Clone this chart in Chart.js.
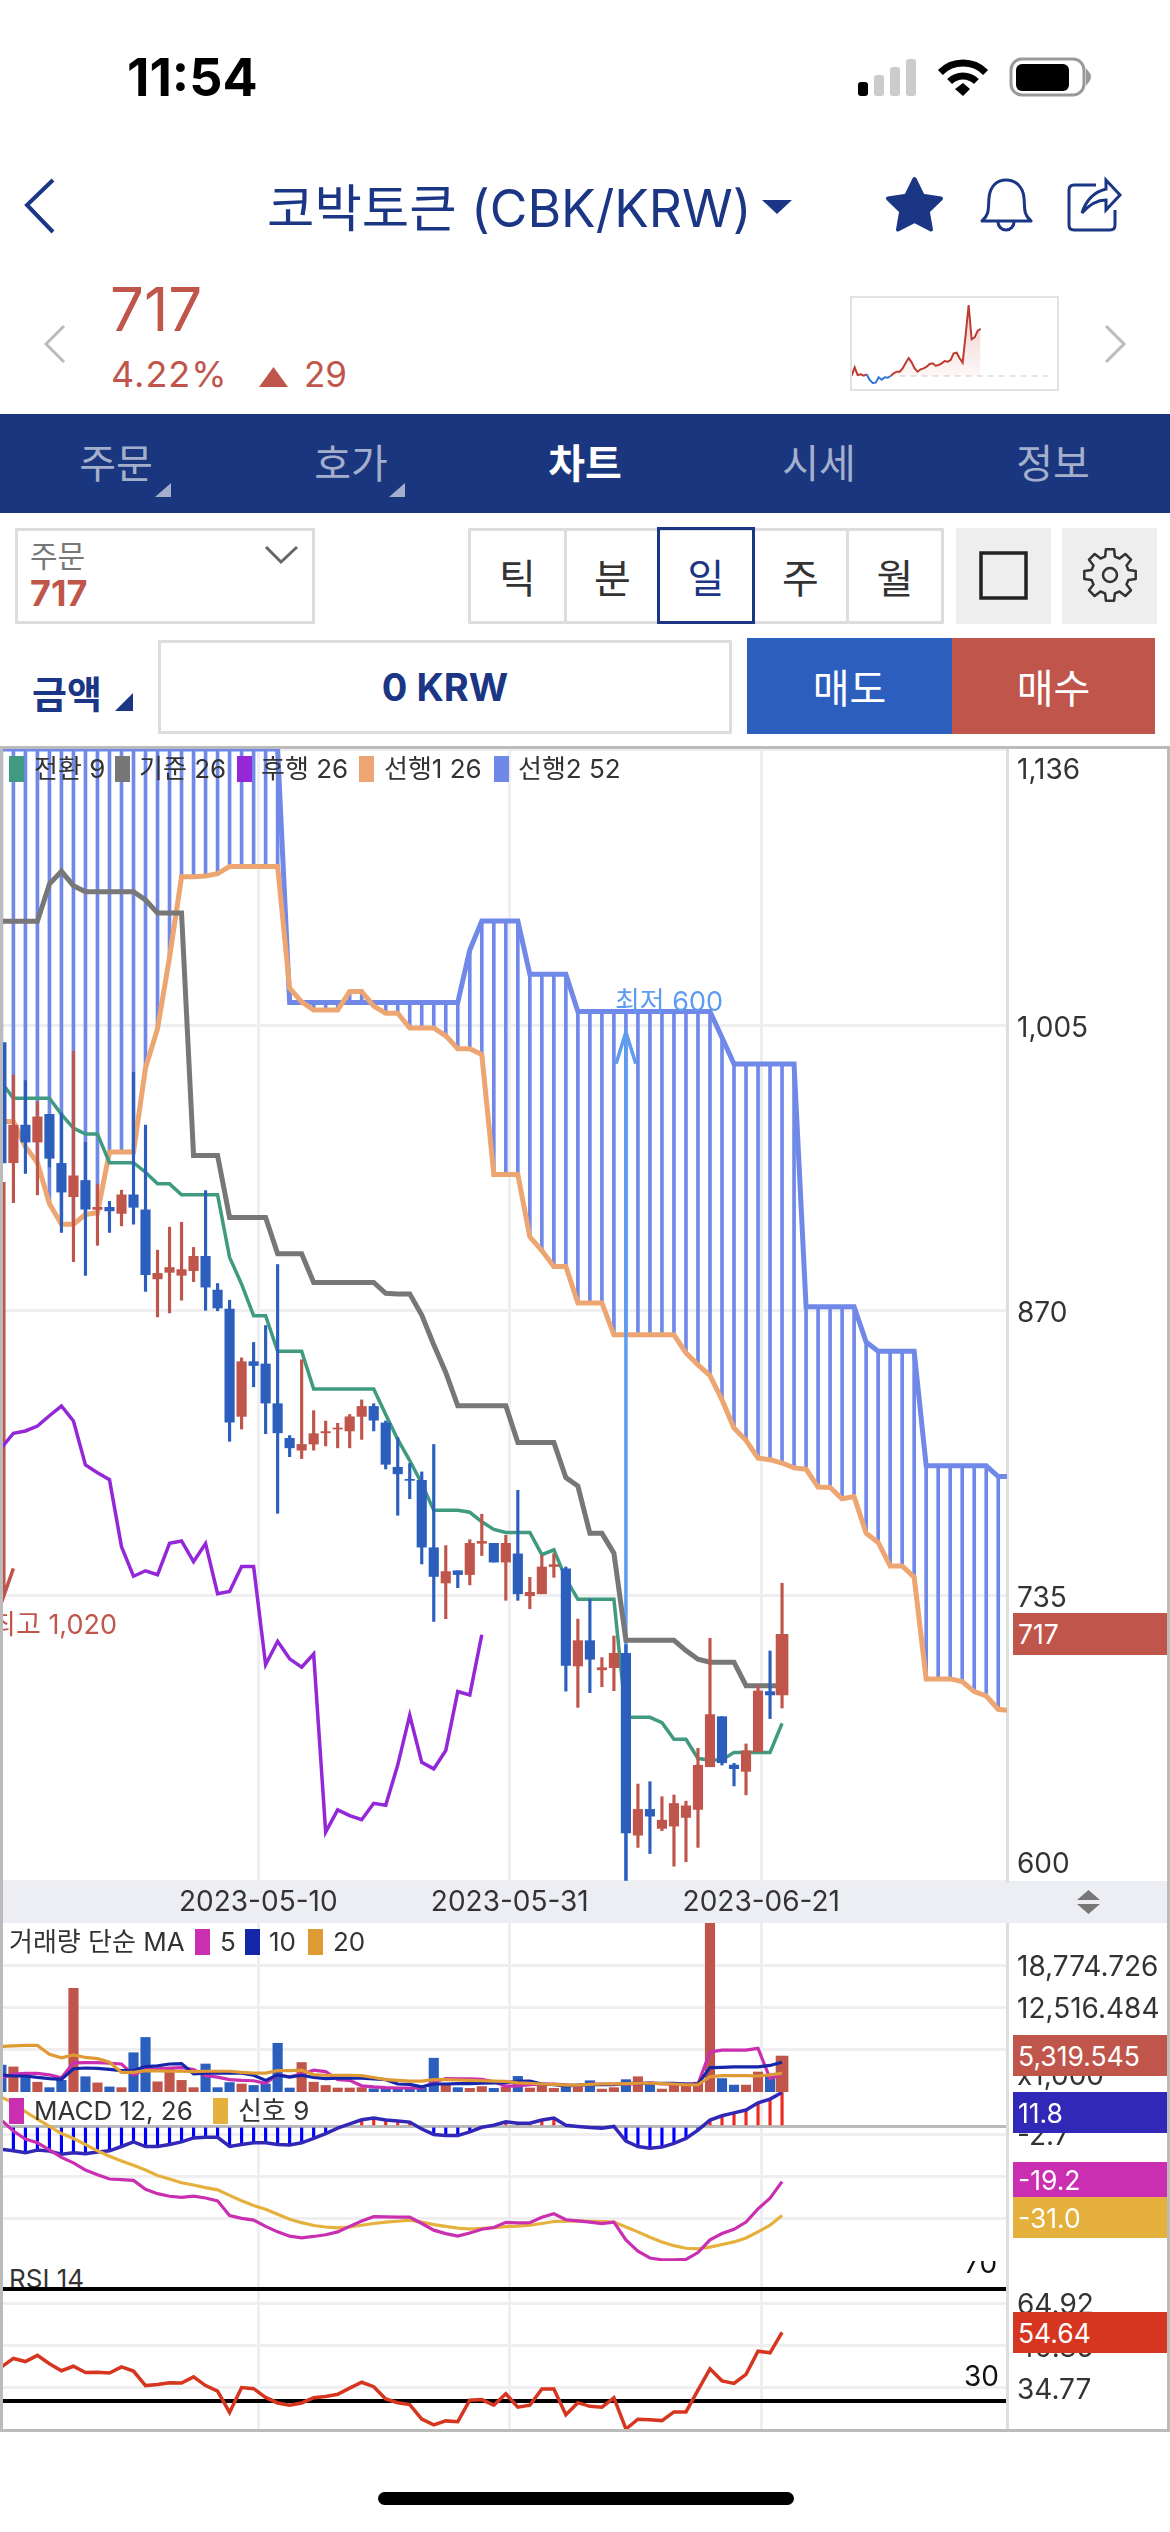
<!DOCTYPE html>
<html lang="ko">
<head>
<meta charset="utf-8">
<title>코박토큰 (CBK/KRW)</title>
<script src="https://cdn.jsdelivr.net/npm/chart.js@4/dist/chart.umd.min.js"></script>
<style>
  html, body { margin: 0; padding: 0; background: #fff; }
  #page { position: relative; width: 1170px; height: 2532px; overflow: hidden; background: #fff;
          font-family: Inter, "Noto Sans CJK KR", sans-serif; color: #333; }
  #page > * { position: absolute; }
  .t { white-space: nowrap; line-height: 1; }
  .c { display: flex; align-items: center; justify-content: center; box-sizing: border-box; }
  .sw { width: 15px; height: 26px; }
  .lg { font-size: 26px; line-height: 30px; white-space: nowrap; color: #333; }
  .tag { left: 1013px; width: 154px; color: #fff; font-size: 26.5px; padding-left: 5px; box-sizing: border-box;
         display: flex; align-items: center; }
  .tab { top: 441px; width: 120px; text-align: center; font-size: 40px; line-height: 46px; color: #a4afcc; }
  .seg { top: 530px; height: 91px; font-size: 40px; color: #333; }
</style>
</head>
<body>
<div id="page">
  <!-- status bar -->
  <div class="t" style="left:127px;top:52px;font-size:52px;font-weight:700;color:#000">11:54</div>

  <svg width="1170" height="740" style="left:0;top:0">
    <g transform="translate(2 0)">
      <rect x="856" y="82" width="10" height="14" rx="3" fill="#000"/>
      <rect x="872" y="75" width="10" height="21" rx="3" fill="#ccc"/>
      <rect x="888" y="67" width="10" height="29" rx="3" fill="#ccc"/>
      <rect x="904" y="59" width="10" height="37" rx="3" fill="#ccc"/>
      <path d="M938.4 72.4A32 32 0 0 1 983.6 72.4" fill="none" stroke="#000" stroke-width="7"/>
      <path d="M947.6 81.6A19 19 0 0 1 974.4 81.6" fill="none" stroke="#000" stroke-width="7"/>
      <polygon points="953,89 961,83 968,89 961,96" fill="#000"/>
      <rect x="1009" y="59" width="73" height="36" rx="11" fill="none" stroke="#999" stroke-width="3"/>
      <rect x="1014" y="64" width="53" height="27" rx="6" fill="#000"/>
      <path d="M1085 71Q1091 77 1085 83Z" fill="#999" stroke="#999" stroke-width="2"/>
    </g>
    <polyline points="53,180 27,205 53,232" fill="none" stroke="#1a3685" stroke-width="4"/>
    <polygon points="762,200 792,200 777,214" fill="#1a3685"/>
    <polygon points="914.5,179 922.7,195.7 941,198.5 927.8,211.3 931,229.5 914.5,221 898,229.5 901.2,211.3 888,198.5 906.3,195.7"
             fill="#1a3685" stroke="#1a3685" stroke-width="4" stroke-linejoin="round"/>
    <g transform="translate(2 0)">
      <path d="M980 221C988 214 986 208 987 198C988 186 995 180 1004 180C1013 180 1021 186 1022 198C1023 208 1021 214 1029 221Z"
            fill="none" stroke="#1a3685" stroke-width="3" stroke-linejoin="round"/>
      <path d="M996 222A8 8 0 0 0 1012 222" fill="none" stroke="#1a3685" stroke-width="3"/>
      <path d="M1094 185L1072 185Q1067 185 1067 190L1067 225Q1067 230 1072 230L1108 230Q1113 230 1113 225L1113 210"
            fill="none" stroke="#1a3685" stroke-width="3"/>
      <path d="M1080 213C1084 200 1092 192 1104 189L1104 180L1118 195L1104 210L1104 200C1095 200 1087 205 1080 213Z"
            fill="none" stroke="#1a3685" stroke-width="3"/>
    </g>
    <polyline points="64,326 46,344 64,362" fill="none" stroke="#bbb" stroke-width="3"/>
    <polyline points="1106,326 1124,344 1106,362" fill="none" stroke="#bbb" stroke-width="3"/>
    <polygon points="259,387 288,387 273.5,367" fill="#c0564b"/>
  </svg>

  <!-- title and price -->
  <div class="t" style="left:267px;top:178px;font-size:51.5px;line-height:60px;color:#1a3685">코박토큰 (CBK/KRW)</div>
  <div class="t" style="left:110px;top:279px;font-size:60px;line-height:60px;color:#c0564b">717</div>
  <div class="t" style="left:111px;top:354px;font-size:36px;line-height:40px;letter-spacing:1px;color:#c0564b">4.22%</div>
  <div class="t" style="left:304px;top:354px;font-size:35px;line-height:40px;color:#c0564b">29</div>

  <!-- mini chart -->
  <canvas id="sparkChart" width="208" height="94" style="left:850px;top:297px"></canvas>
  <div style="left:850px;top:296px;width:209px;height:95px;border:2px solid #e2e2e2;box-sizing:border-box"></div>

  <!-- tabs -->
  <div style="left:0;top:414px;width:1170px;height:99px;background:#19367f"></div>
  <div class="tab" style="left:56px">주문</div>
  <div class="tab" style="left:291px">호가</div>
  <div class="tab" style="left:525px;color:#fff;font-weight:700">차트</div>
  <div class="tab" style="left:759px">시세</div>
  <div class="tab" style="left:993px">정보</div>

  <!-- toolbar -->
  <div style="left:15px;top:528px;width:300px;height:96px;border:3px solid #ddd;box-sizing:border-box"></div>
  <div class="t" style="left:30px;top:538px;font-size:30px;line-height:36px;color:#777">주문</div>
  <div class="t" style="left:30px;top:573px;font-size:36px;line-height:40px;font-weight:700;color:#c0564b">717</div>
  <div style="left:468px;top:528px;width:476px;height:96px;border:3px solid #ddd;box-sizing:border-box"></div>
  <div style="left:564px;top:528px;width:3px;height:96px;background:#ddd"></div>
  <div style="left:846px;top:528px;width:3px;height:96px;background:#ddd"></div>
  <div class="seg c" style="left:471px;width:93px">틱</div>
  <div class="seg c" style="left:567px;width:91px">분</div>
  <div class="seg c" style="left:657px;top:527px;height:97px;width:98px;border:3px solid #1a3685;color:#1a3685">일</div>
  <div class="seg c" style="left:755px;width:91px">주</div>
  <div class="seg c" style="left:849px;width:92px">월</div>
  <div style="left:956px;top:528px;width:95px;height:96px;background:#eee"></div>
  <div style="left:1062px;top:528px;width:95px;height:96px;background:#eee"></div>
  <div class="c" style="left:158px;top:640px;width:574px;height:94px;border:3px solid #ddd;font-size:38px;font-weight:700;color:#1a3685">0 KRW</div>
  <div class="t" style="left:32px;top:671px;font-size:38px;line-height:46px;font-weight:700;color:#1a3685">금액</div>
  <div class="c" style="left:747px;top:638px;width:205px;height:96px;background:#2c5fbd;color:#fff;font-size:40px">매도</div>
  <div class="c" style="left:952px;top:638px;width:203px;height:96px;background:#c0564b;color:#fff;font-size:40px">매수</div>

  <svg width="1170" height="740" style="left:0;top:0">
    <polygon points="171,483 171,497 155,497" fill="#a4afcc"/>
    <polygon points="405,483 405,497 389,497" fill="#a4afcc"/>
    <polyline points="266,547 281,562 297,547" fill="none" stroke="#666" stroke-width="3"/>
    <rect x="981" y="553" width="45" height="45" fill="none" stroke="#222" stroke-width="3.5"/>
    <polygon id="gear" fill="none" stroke="#333" stroke-width="2.5" stroke-linejoin="round"/>
    <circle cx="1110" cy="575" r="7" fill="none" stroke="#333" stroke-width="2.5"/>
    <polygon points="133,693 133,711 115,711" fill="#1a3685"/>
  </svg>

  <!-- chart panels -->
  <div style="left:3px;top:1881px;width:1164px;height:42px;background:#eceef3"></div>
  <canvas id="priceChart" width="1170" height="1174" style="left:0;top:749px"></canvas>
  <canvas id="volumeChart" width="1170" height="169" style="left:0;top:1923px"></canvas>
  <canvas id="macdChart" width="1170" height="169" style="left:0;top:2092px"></canvas>
  <div class="lg" style="left:9px;top:2264px">RSI 14</div>
  <canvas id="rsiChart" width="1170" height="168" style="left:0;top:2261px"></canvas>

  <svg width="40" height="40" style="left:1070px;top:1882px">
    <polygon points="7,18 30,18 18.5,8" fill="#777"/>
    <polygon points="7,22 30,22 18.5,32" fill="#777"/>
  </svg>

  <!-- price legend -->
  <div class="sw" style="left:9px;top:756px;background:#3f9a80"></div><div class="lg" style="left:34px;top:754px">전환 9</div>
  <div class="sw" style="left:115px;top:756px;background:#777"></div><div class="lg" style="left:139px;top:754px">기준 26</div>
  <div class="sw" style="left:237px;top:756px;background:#9427d8"></div><div class="lg" style="left:261px;top:754px">후행 26</div>
  <div class="sw" style="left:359px;top:756px;background:#eda572"></div><div class="lg" style="left:384px;top:754px">선행1 26</div>
  <div class="sw" style="left:494px;top:756px;background:#7089e8"></div><div class="lg" style="left:518px;top:754px">선행2 52</div>

  <!-- high and low markers -->
  <div style="left:3px;top:1605px;width:114px;height:40px;overflow:hidden">
    <span class="lg" style="position:absolute;right:0;top:5px;font-size:27px;color:#c0564b">최고 1,020</span>
  </div>
  <div class="lg" style="left:615px;top:987px;font-size:27px;color:#5e9cf0">최저 600</div>

  <!-- lower legends -->
  <div class="lg" style="left:9px;top:1927px">거래량 단순 MA</div>
  <div class="sw" style="left:195px;top:1929px;background:#c92fb0"></div><div class="lg" style="left:220px;top:1927px">5</div>
  <div class="sw" style="left:245px;top:1929px;background:#1527a8"></div><div class="lg" style="left:269px;top:1927px">10</div>
  <div class="sw" style="left:308px;top:1929px;background:#e09a34"></div><div class="lg" style="left:333px;top:1927px">20</div>
  <div class="sw" style="left:9px;top:2098px;background:#c92fb0"></div><div class="lg" style="left:34px;top:2096px">MACD 12, 26</div>
  <div class="sw" style="left:213px;top:2098px;background:#e6b03c"></div><div class="lg" style="left:238px;top:2096px">신호 9</div>

  <div style="left:964px;top:2261px;width:40px;height:20px;overflow:hidden">
    <span class="lg" style="position:absolute;left:0;top:-13px;font-size:28px;color:#111">70</span>
  </div>
  <div class="lg" style="left:964px;top:2361px;font-size:28px;color:#111">30</div>
  <div class="lg" style="left:1017px;top:2060px;font-size:28px">x1,000</div>

  <!-- last value tags -->
  <div class="tag" style="top:1613px;height:42px;background:#c0564b">717</div>
  <div class="tag" style="top:2035px;height:41px;background:#c0564b">5,319.545</div>
  <div class="tag" style="top:2092px;height:41px;background:#3228b8">11.8</div>
  <div class="tag" style="top:2162px;height:35px;background:#c92fb0">-19.2</div>
  <div class="tag" style="top:2197px;height:41px;background:#e6b03c">-31.0</div>
  <div class="tag" style="top:2312px;height:41px;background:#d6351f">54.64</div>

  <!-- chart frame -->
  <div style="left:0;top:746px;width:1170px;height:1686px;border:3px solid #bbb;box-sizing:border-box"></div>

  <!-- home indicator -->
  <div style="left:378px;top:2492px;width:416px;height:13px;border-radius:7px;background:#000"></div>
</div>

<script>
// daily slots start one day before the left edge of the chart
var firstSlot = -1;

var highs = [997,981.6,979,968.9,963,963.8,992.9,949.8,930,921.8,927.1,982.9,957.9,898.7,909.6,911.9,900,926.9,882.9,875,847.7,855,863,891.9,810.9,846.8,822.7,817.8,816.7,820.9,827.8,826,817.8,810,797.7,793.7,806.7,758.8,746.9,761.6,773.7,759.9,763.7,785,743.8,754.1,755,748.7,724,733.4,705.8,716,711.8,645.9,647,639.9,640.7,637.8,662.8,714.9,677.8,655.7,664.9,692.3,708.9,741];
var lows = [940,921.2,935,924.9,938.1,907.1,893.2,886.8,901,907.1,910.2,911,879.2,867.1,869,875,883.8,870.2,870,808.2,814,834,811.8,774.1,800.9,800,804,806,805.1,805.1,809.1,813.1,795.1,773.2,781,750.1,722.9,724.2,738.9,740.2,754.1,751,732.9,732.9,728.9,736,743.8,689.9,682.2,689.2,692,690.1,600.4,615.9,613,623.8,607,609.1,615.9,654.1,654.9,645,640.8,661.2,676.9,681.9];
var opens = [997,940.1,957.9,949.9,963,939.8,924,931.7,918,919,916.1,924.9,917.8,885.1,888.2,886.8,889,895.8,879.8,870.8,820,845.9,844.8,826,809.6,804,806.9,812.2,814,813.1,820,824.7,816.9,795.9,790.2,789.7,757.8,741.1,746.9,745.1,759.9,759.9,751,754.9,735.1,736,748.9,747.8,701.8,713.8,700,701,707.8,621.7,633.9,624.9,626,630.1,633.9,654.1,677.8,654.9,651.9,661.2,689.7,688.1];
var closes = [940,957.9,949.9,961.8,942.2,926.2,933.9,918.1,919,917.3,924.9,919,887.1,887.7,890.5,889.5,895.8,881.2,871.3,817.3,845.9,844.1,826.3,812.2,805.1,806.7,811.8,812.8,814.5,819.8,824.7,818.2,797.3,792.8,789.7,758.1,744.2,746.5,745.1,759.9,760.8,751,759.9,736,736.7,748.7,749.8,702.1,713.8,705,701,707.8,622.8,633.9,630.7,628.8,636.7,635.6,654.8,678.8,656,653.2,661.7,690,688.1,716.8];

var tenkan = [978.2,970.6,970.6,970.6,970.6,963,956.5,953.7,953.7,940.1,940.1,940.1,935.6,930.1,930.1,924.9,924.9,924.9,924.9,895.3,882.6,867.7,867.7,850.8,850.8,850.8,833,833,833,833,833,833,820.9,809.1,799.1,788.2,775.5,775.5,775.5,774.6,770.1,766.5,765,765,765,754.5,756.8,743.2,733.4,733.4,733.4,733.4,677.5,677.5,677.5,675,667.1,667.1,658,657.3,657.3,660.9,660.9,660.9,660.9,674.6];
var kijun = [1054.4,1054.4,1054.4,1054.4,1072.1,1078.1,1071.3,1068.4,1068.4,1068.4,1068.4,1068.4,1064.5,1058.4,1058.4,1058.4,943.5,943.5,943.5,914.2,914.2,914.2,914.2,897,897,897,883.4,883.4,883.4,883.4,883.4,883.4,878.3,878,878,868,853.9,840.8,825,825,825,825,825,807.6,807.6,807.6,807.6,791,787,764.6,764.6,755.2,714,714,714,714,714,709.1,705,703.6,703.6,703.6,692.5,692.5,692.5,692.5];
var chikou = [805,812,813.1,815.4,820.3,824.9,817.8,797,793.3,790,758.3,744.3,746.9,745,759.9,761,751.2,759.8,736,737.1,748.9,748.9,702.4,713.5,705.2,701.2,707.5,623.2,633.7,631,629,636.8,635.9,654.9,678.5,656.2,653.1,661.8,689.7,688.1,716.6];
var senkou1 = [959.6,959.6,947.7,940.1,920.7,911,911,915.6,916.4,945.2,945.2,945.2,985,1003.6,1037.4,1075.5,1075.5,1075.9,1077,1080.4,1080.4,1080.4,1080.4,1080.4,1022.7,1016.3,1012.4,1012.4,1012.4,1021.2,1021.2,1014.3,1010.9,1010.9,1003.9,1003.9,1003.9,1000.2,994.1,994.1,991.4,934.5,934.5,934.5,905,898.5,891,891,873.7,873.7,873.7,858.6,858.6,858.6,858.6,858.6,858.6,850.1,844.4,839.3,827.8,814.5,808.7,800.2,799.5,797.9,795.6,795,786.5,786.3,781,782,764.7,760.3,749.2,749.2,743.9,695.7,695.7,695.7,694.4,689.7,687.6,681.3,680.7];
var senkou2 = [1136,1136,1136,1136,1136,1136,1136,1136,1136,1136,1136,1136,1136,1136,1136,1136,1136,1136,1136,1136,1136,1136,1136,1136,1016,1016,1016,1016,1016,1016,1016,1016,1016,1016,1016,1016,1016,1016,1016,1040.8,1054.5,1054.5,1054.5,1054.5,1029.3,1029.3,1029.3,1029.3,1011.7,1011.7,1011.7,1011.7,1011.7,1011.7,1011.7,1011.7,1011.7,1011.7,1011.7,1011.7,999.4,986.8,986.8,986.8,986.8,986.8,986.8,871.9,871.9,871.9,871.9,871.9,855.2,850.8,850.8,850.8,850.8,796.6,796.6,796.6,796.6,796.6,796.6,791.5,791.5];

var volumes = [3981,3712,2475,1453,646,1722,15333,2260,1345,753,646,5810,8070,1506,3551,1722,646,4143,646,1399,1184,968,1184,7209,592,4358,1453,968,592,592,646,484,430,430,430,538,5003,1184,646,538,807,538,753,2313,592,1184,538,753,753,1668,430,645,1829,2260,1184,430,1291,1184,1453,27000,1991,1022,1022,2959,2367,5320];
var volMa5 = [2044,2636,2744,2744,2529,2098,4304,4358,4358,4250,4143,2529,3336,3443,3551,3605,3336,2421,2206,1829,1722,1668,1291,2529,2260,2636,3228,3013,1829,1722,915,753,646,592,592,592,1453,1991,1937,1937,1883,1506,861,915,1076,1184,1184,1076,915,1184,1184,1184,1184,1184,1345,1184,1184,1184,1184,5918,6187,6187,6187,6456,1991,2636];
var volMa10 = [2529,2367,2367,2152,1991,1883,3443,3551,3497,3336,3174,3174,3766,3874,4143,4196,2690,2798,2798,2798,2798,2475,1722,2529,2206,2475,2152,1991,2044,2044,2044,1937,1829,1184,1130,753,1184,1184,1237,1237,1291,1345,1399,1560,1614,1184,1076,915,1022,1130,1076,1076,1291,1291,1291,1291,1291,1184,1184,3605,3658,3712,3712,3712,3927,4412];
var volMa20 = [6725,6833,6886,6886,5595,5057,5488,5111,4950,4412,2905,2905,3174,3120,3067,3067,3013,3067,3067,3067,2905,2798,2798,3174,3174,3228,2582,2475,2475,2475,2421,2152,1829,1722,1614,1614,1829,1829,1775,1722,1668,1614,1560,1345,1291,1184,1130,1022,1022,1130,1184,1184,1237,1291,1291,1237,1184,1076,1076,2260,2421,2421,2421,2367,2529,2744];

var macdOsc = [-8,-8.5,-9.2,-8.2,-8.6,-9.7,-9.2,-9.5,-8.9,-8.5,-7,-5.4,-7,-7,-6.3,-5.4,-4,-3.8,-3.8,-7,-6.3,-5.7,-5.7,-6.3,-6.5,-5.7,-4.2,-2.5,-0.6,0.9,2.3,2.9,2.2,1.9,1.5,-0.9,-2.8,-3.2,-3.2,-1.9,-0.3,0.4,1.6,1.1,1.1,2.2,2.9,0.4,0,-0.4,-0.6,0,-5.1,-7,-7.6,-7.2,-5.9,-4.2,-1.3,2.2,3.7,4.7,5.7,8.2,9.5,11.8];
var macdLine = [2.2,-1.6,-4.4,-5.7,-8.2,-10.8,-12.7,-15.2,-16.8,-18.3,-18.5,-18.8,-21.9,-23.4,-24.3,-24.7,-24.3,-24.9,-25.9,-31,-32,-32.6,-34.8,-36.7,-38.2,-38.8,-38.3,-37.7,-36.7,-34.8,-32.9,-31.4,-31.5,-31.6,-31.6,-33.8,-36.1,-37.3,-38.2,-37.1,-35.8,-35.2,-33.4,-33.6,-33.5,-31.6,-30.4,-32.5,-32.9,-33.3,-33.8,-33.3,-39.5,-43.4,-45.8,-46.4,-46.4,-46.3,-43.9,-39.5,-37.3,-35.8,-33.3,-28.7,-25,-19.2];
var macdSignal = [10.1,8.2,5.1,2.5,0,-2.5,-4.2,-6.3,-8.5,-10.4,-12,-13.5,-15.2,-17.1,-18.3,-19.6,-20.4,-21.3,-22.1,-24,-25.9,-27.5,-28.8,-30.6,-32.3,-33.5,-34.5,-35,-35.3,-35,-34.4,-33.8,-33.3,-33,-32.6,-33.3,-34.2,-34.8,-35.4,-35.7,-35.5,-35.2,-34.9,-34.7,-34.4,-33.8,-33.1,-33,-32.9,-33,-33.1,-33.3,-35,-36.7,-38.6,-40.2,-41.5,-42.4,-42.6,-42,-41.1,-40.2,-38.8,-36.7,-34.4,-31];

var rsi = [42.2,45.3,44.2,46.4,43.4,40.9,42.5,40.3,40.4,40.1,42.3,40.8,35.6,36,36.6,36.5,38.7,35.6,33.6,26,34.9,34.5,31.4,29.4,28.6,29.4,31.3,31.7,32.5,34.7,36.8,35.2,30.8,29.5,28.8,23.6,21.6,23,22.7,30.4,30.6,28.6,32.7,27.9,28.6,34.4,34.4,25.2,29.5,28.2,27.9,31.2,20.1,23.6,23.4,23.1,26.2,26.2,34,41.6,37.3,36.4,39.6,47.9,47.3,54.6];

var sparkValues = [1,26,3,5,1,5,-12,-21,-20,-4,-11,-4,-5,0,8,13,13,23,39,54,41,23,13,20,23,28,36,38,31,33,38,45,43,48,68,70,53,40,123,213,110,116,135,142];

var dateLabels = ['2023-05-10','2023-05-31','2023-06-21'];
var dateSlots = [20.39,41.33,62.27];
var priceTicks = [1136,1005,870,735,600];
var priceLabels = ['1,136','1,005','870','735','600'];
var volumeTicks = [18774.726,12516.484,6258.242];
var volumeLabels = ['18,774.726','12,516.484','6,258.242'];
var macdTicks = [0,-2.7,-17.4,-32.1];
var macdLabels = ['','-2.7','-17.4','-32.1'];
var rsiTicks = [70,64.92,49.85,34.77,30];
var rsiLabels = ['','64.92','49.85','34.77',''];

var RED = '#c0564b', BLUE = '#2c5fbd', GRID = '#efeff1';
var FONT = 'Inter, "Noto Sans CJK KR", sans-serif';

function slot(i) { return firstSlot + i; }

function series(values) {
  return values.map(function (v, i) { return {x: slot(i), y: v}; });
}

function line(label, values, color, width, order) {
  return {type: 'line', label: label, data: series(values), borderColor: color, borderWidth: width,
          pointRadius: 0, tension: 0, order: order};
}

function path(points, color, width, order) {
  return {type: 'line', data: points, borderColor: color, borderWidth: width, pointRadius: 0, tension: 0, order: order};
}

function bars(data, color, thickness, order) {
  return {type: 'bar', data: data, backgroundColor: color, barThickness: thickness, grouped: false,
          borderWidth: 0, borderSkipped: false, order: order};
}

function isUp(i) { return closes[i] >= opens[i]; }

// wicks and bodies for one colour, the last candle is drawn wider so it stays out of here
function wicks(up) {
  var out = [];
  highs.forEach(function (h, i) { if (isUp(i) === up) out.push({x: slot(i), y: [lows[i], h]}); });
  return out;
}
function bodies(up) {
  var out = [];
  opens.forEach(function (o, i) {
    if (isUp(i) === up && i < opens.length - 1) out.push({x: slot(i), y: [Math.min(o, closes[i]), Math.max(o, closes[i])]});
  });
  return out;
}

function xScale(height, withLabels) {
  return {
    type: 'linear', min: -0.866, max: 82.73, offset: false,
    border: {display: false},
    grid: {color: GRID, lineWidth: 3, drawTicks: false, offset: false},
    ticks: {
      display: withLabels, autoSkip: false, maxRotation: 0, padding: 5, color: '#333',
      font: {family: FONT, size: 28},
      callback: function (v) { return dateLabels[dateSlots.indexOf(v)]; }
    },
    afterBuildTicks: function (s) { s.ticks = dateSlots.map(function (v) { return {value: v}; }); },
    afterFit: function (s) { s.height = height; s.paddingLeft = 0; s.paddingRight = 0; }
  };
}

function yScale(min, max, tickValues, labelFor, gridColor, gridWidth) {
  return {
    position: 'right', min: min, max: max,
    border: {display: true, color: '#dedede', width: 3},
    grid: {color: gridColor, lineWidth: gridWidth, drawTicks: false},
    ticks: {
      autoSkip: false, padding: 10, labelOffset: 2.5, color: '#333',
      font: {family: FONT, size: 28, lineHeight: 1.36}, callback: labelFor
    },
    afterBuildTicks: function (s) { s.ticks = tickValues.map(function (v) { return {value: v}; }); },
    afterFit: function (s) { s.width = 163; s.paddingTop = 0; s.paddingBottom = 0; }
  };
}

function panel(id, datasets, y, xAxisHeight) {
  new Chart(document.getElementById(id), {
    data: {datasets: datasets},
    options: {
      responsive: false, animation: false, events: [],
      layout: {padding: {left: 3, right: 0, top: 0, bottom: 0}},
      plugins: {legend: {display: false}, tooltip: {enabled: false}},
      scales: {x: xScale(xAxisHeight, xAxisHeight > 0), y: y}
    }
  });
}

var cloud = senkou1.map(function (v, i) {
  return {x: slot(i), y: [Math.min(v, senkou2[i]), Math.max(v, senkou2[i])]};
});
var last = opens.length - 1;

panel('priceChart', [
  bars(cloud, '#7089e8', 3, 60),
  line('선행2', senkou2, '#7089e8', 5, 50),
  line('선행1', senkou1, '#eda572', 5, 45),
  path([{x: 51, y: 600}, {x: 51, y: 1002}], '#5e9cf0', 3.5, 40),
  path([{x: 50.18, y: 987}, {x: 51, y: 1002}, {x: 51.82, y: 987}], '#5e9cf0', 3.5, 40),
  path([{x: -0.8, y: 931}, {x: -0.8, y: 735}, {x: 0, y: 748}], RED, 3.5, 40),
  line('후행', chikou, '#9427d8', 3.5, 35),
  line('기준', kijun, '#777', 5, 28),
  line('전환', tenkan, '#3f9a80', 3.5, 30),
  bars(wicks(true), RED, 2.5, 20),
  bars(wicks(false), BLUE, 2.5, 20),
  bars(bodies(true), RED, 9.5, 10),
  bars(bodies(false), BLUE, 9.5, 10),
  bars([{x: slot(last), y: [opens[last], closes[last]]}], RED, 12, 10)
], yScale(600, 1136, priceTicks, function (v, i) {
  // first and last labels sit inside the panel
  if (i === 0) return ['', priceLabels[i]];
  if (i === priceTicks.length - 1) return [priceLabels[i], ''];
  return priceLabels[i];
}, GRID, 3), 42);

panel('volumeChart', [
  bars(series(volumes.slice(0, last)), volumes.slice(0, last).map(function (v, i) { return isUp(i) ? RED : BLUE; }), 9.5, 20),
  bars([{x: slot(last), y: volumes[last]}], RED, 12, 20),
  line('5', volMa5, '#c92fb0', 3.2, 6),
  line('10', volMa10, '#1527a8', 3.2, 5),
  line('20', volMa20, '#e09a34', 3.2, 4)
], yScale(0, 25004, volumeTicks, function (v, i) { return volumeLabels[i]; }, GRID, 3), 0);

panel('macdChart', [
  bars(series(macdOsc), macdOsc.map(function (v) { return v >= 0 ? '#ee2a22' : '#0000ff'; }), 2.5, 20),
  line('oscillator', macdOsc, '#3228b8', 3.5, 8),
  line('signal', macdSignal, '#e6b03c', 3.2, 7),
  line('MACD', macdLine, '#c92fb0', 3.2, 6)
], yScale(-46.84, 11.97, macdTicks, function (v, i) { return macdLabels[i]; },
  function (c) { return c.tick.value === 0 ? '#bbb' : GRID; },
  function (c) { return 3; }), 0);

panel('rsiChart', [
  line('RSI', rsi, '#d6351f', 3.5, 6)
], yScale(20.1, 80.1, rsiTicks, function (v, i) { return rsiLabels[i]; },
  function (c) { return c.tick.value === 70 || c.tick.value === 30 ? '#000' : GRID; },
  function (c) { return c.tick.value === 70 || c.tick.value === 30 ? 4 : 3; }), 0);

// mini chart beside the price
var sparkCanvas = document.getElementById('sparkChart');
var sparkFill = sparkCanvas.getContext('2d').createLinearGradient(0, 20, 0, 80);
sparkFill.addColorStop(0, 'rgba(192,57,47,0.22)');
sparkFill.addColorStop(1, 'rgba(192,57,47,0.03)');

new Chart(sparkCanvas, {
  type: 'line',
  data: {datasets: [
    {data: [{x: 16, y: 0}, {x: 66, y: 0}], borderColor: '#ddd', borderWidth: 1.5, borderDash: [6, 5], pointRadius: 0, order: 2},
    {data: sparkValues.map(function (v, i) { return {x: i, y: v}; }), borderWidth: 2, pointRadius: 0, tension: 0, order: 1,
     borderColor: '#bd3b30',
     fill: {target: {value: 0}, above: sparkFill, below: 'rgba(0,0,0,0)'},
     segment: {borderColor: function (c) { return c.p0.parsed.y < 0 || c.p1.parsed.y < 0 ? '#2f74d8' : '#bd3b30'; }}}
  ]},
  options: {
    responsive: false, animation: false, events: [],
    layout: {padding: 0},
    plugins: {legend: {display: false}, tooltip: {enabled: false}},
    scales: {
      x: {type: 'linear', display: false, min: -0.56, max: 68.8},
      y: {display: false, min: -45, max: 237}
    }
  }
});

// settings gear outline, eight teeth
var gearPts = [];
for (var k = 0; k < 8; k++) {
  [[-15, 19], [-9, 26], [9, 26], [15, 19]].forEach(function (p) {
    var a = (k * 45 + p[0]) * Math.PI / 180;
    gearPts.push((1110 + p[1] * Math.cos(a)).toFixed(1) + ',' + (575 + p[1] * Math.sin(a)).toFixed(1));
  });
}
document.getElementById('gear').setAttribute('points', gearPts.join(' '));
</script>
</body>
</html>
